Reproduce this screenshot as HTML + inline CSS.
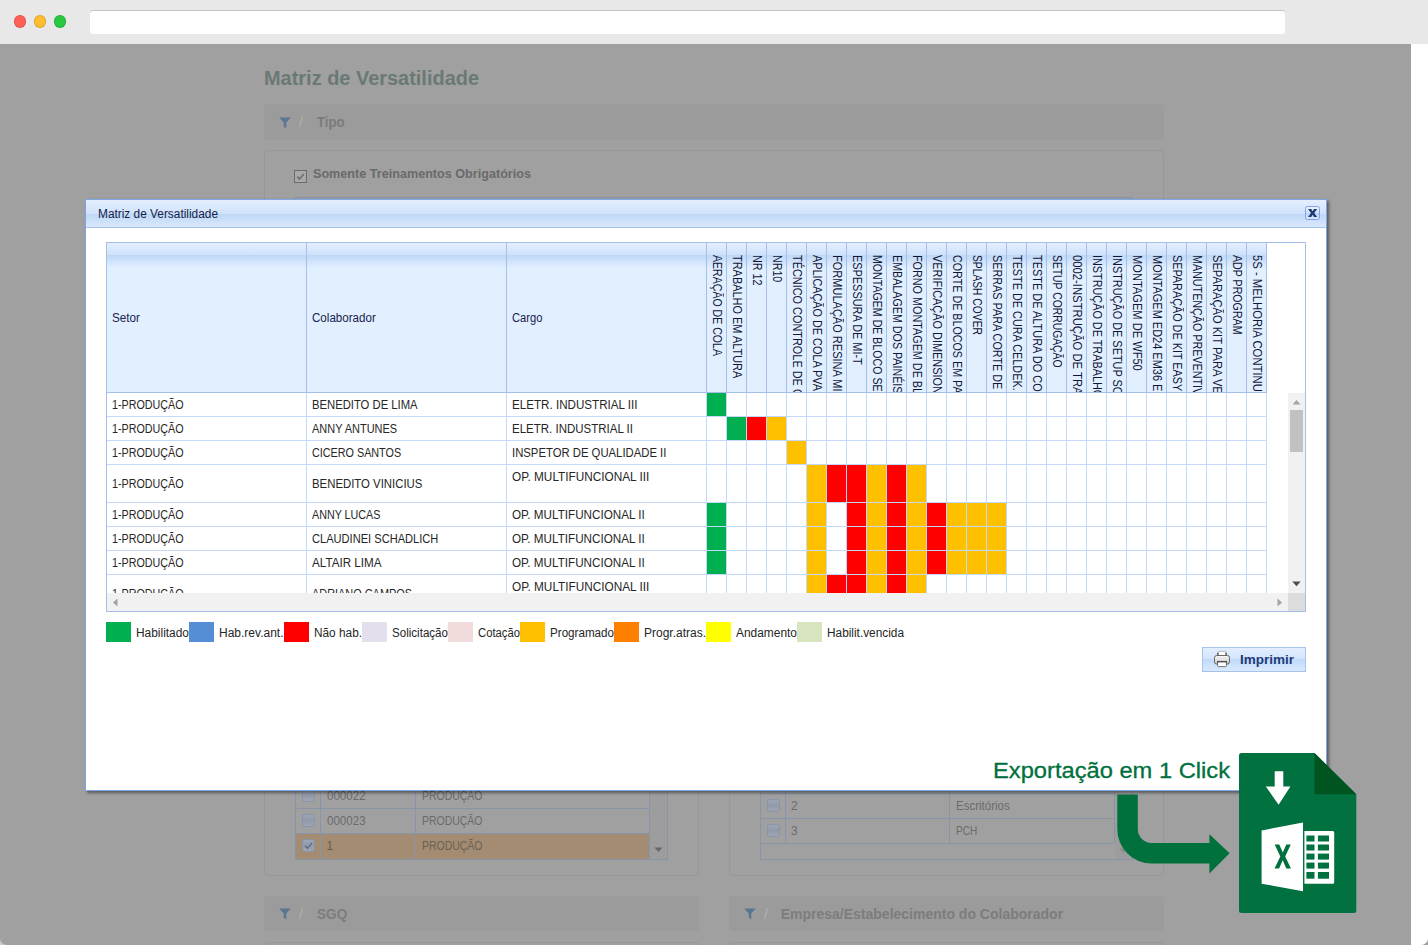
<!DOCTYPE html>
<html><head><meta charset="utf-8"><title>Matriz de Versatilidade</title><style>
html,body{margin:0;padding:0}
body{width:1428px;height:945px;overflow:hidden;background:#fff;position:relative;font-family:"Liberation Sans", sans-serif;}
.t{position:absolute;white-space:pre;font-family:"Liberation Sans", sans-serif;transform-origin:0 50%}
#chrome{position:absolute;left:0;top:0;width:1428px;height:44px;background:#e8e8e8}
.dot{position:absolute;top:15.4px;width:12.8px;height:12.8px;border-radius:50%;box-sizing:border-box;border:0.6px solid rgba(0,0,0,.12)}
#url{position:absolute;left:90px;top:11px;width:1195px;height:23px;background:#fff;border-radius:3px;box-shadow:0 -1px 0 #c4c4c4}
#pg{position:absolute;left:0;top:44px;width:1411px;height:901px;background:#a0a0a0;overflow:hidden;border-radius:0 0 0 7px}
#pg > *{margin-top:-44px}
.bc{position:absolute;background:#9b9b9b;border-radius:4px}
.pn{position:absolute;border:1px solid #979797;border-radius:4px}
.fun{position:absolute}
#dlg{position:absolute;left:85px;top:199px;width:1240px;height:590px;border:1px solid #7da7e6;background:#fff;box-shadow:2px 2px 3px rgba(0,0,0,.45)}
#dtitle{position:absolute;left:0;top:0;width:1240px;height:27px;border-bottom:1px solid #a4c2ec;background:linear-gradient(#e4effe 0px,#cfe2fb 14px,#bdd8f6 14px,#d9e8fd 27px)}
#close{position:absolute;left:1305px;top:206px;width:13px;height:12px;border:1px solid #8a9de6;border-radius:2.5px;background:linear-gradient(#e8f1ff 0,#cfe0fb 50%,#b6d2f5 50%,#d6e8ff 100%)}
#grid{position:absolute;left:106px;top:242px;width:1198px;height:368px;border:1px solid #a4bfe8;background:#fff;overflow:hidden}
#hdr{position:absolute;left:0;top:0;width:1160px;height:149px;background:linear-gradient(#e4effe 0px,#cfe2fb 12px,#bdd8f6 12px,#e2efff 25px)}
.hv{position:absolute;top:0;width:1px;height:150px;background:#a4bfe8;margin-left:-1px}
.hh{position:absolute;left:0;top:149px;width:1160px;height:1px;background:#a4bfe8}
.vc{position:absolute;top:11.5px;width:19px;height:137px;overflow:hidden}
.vt{position:absolute;top:0;left:-0.5px;width:19px;writing-mode:vertical-rl;font-size:12px;line-height:19px;white-space:pre;color:#10163a;transform-origin:0 0}
#rows{position:absolute;left:0;top:150px;width:1182px;height:200px;overflow:hidden}
#dtxt{position:absolute;left:0;top:393px;width:706px;height:200px;overflow:hidden}
#dtxt > *{margin-top:-393px}
#vsb{position:absolute;left:1181px;top:150px;width:17px;height:200px;background:#f1f1f1}
#vth{position:absolute;left:2px;top:17px;width:13px;height:42px;background:#c1c1c1}
#hsb{position:absolute;left:0;top:350px;width:1181px;height:18px;background:#f1f1f1}
#corner{position:absolute;left:1181px;top:350px;width:17px;height:18px;background:#dcdcdc}
#btn{position:absolute;left:1202px;top:647px;width:102px;height:23px;border:1px solid #a4c2ec;background:linear-gradient(#e3eefe 0,#d2e4fc 50%,#c0dbf8 50%,#d9e9fe 100%)}
</style></head><body>
<div style="position:absolute;left:0;top:935px;width:10px;height:10px;background:#c9c9c9"></div><div id="chrome"></div>
<div class="dot" style="left:13.6px;background:#ff5f57"></div><div class="dot" style="left:33.5px;background:#febc2e"></div><div class="dot" style="left:53.6px;background:#28c840"></div>
<div id="url"></div>
<div id="pg">
<div class="t" style="left:264.00px;top:68.07px;font-size:20px;line-height:20px;font-weight:700;color:#6b7975;transform:scaleX(0.9970);">Matriz de Versatilidade</div>
<div class="bc" style="left:264px;top:103.5px;width:900px;height:36px"></div>
<div class="bc" style="left:264px;top:896px;width:435px;height:35px"></div>
<div class="bc" style="left:729px;top:896px;width:435px;height:35px"></div>
<svg class="fun" style="left:279px;top:116.5px" width="12" height="12" viewBox="0 0 12 12"><path d="M0.3 0.4 H11.7 L7.3 5.4 V11.6 L4.7 9.4 V5.4 Z" fill="#5b7691"/></svg>
<svg class="fun" style="left:279px;top:908px" width="12" height="12" viewBox="0 0 12 12"><path d="M0.3 0.4 H11.7 L7.3 5.4 V11.6 L4.7 9.4 V5.4 Z" fill="#5b7691"/></svg>
<svg class="fun" style="left:744px;top:908px" width="12" height="12" viewBox="0 0 12 12"><path d="M0.3 0.4 H11.7 L7.3 5.4 V11.6 L4.7 9.4 V5.4 Z" fill="#5b7691"/></svg>
<div class="t" style="left:299.00px;top:114.65px;font-size:14px;line-height:14px;color:#b2b2b2;">/</div>
<div class="t" style="left:299.00px;top:906.65px;font-size:14px;line-height:14px;color:#b2b2b2;">/</div>
<div class="t" style="left:764.00px;top:906.65px;font-size:14px;line-height:14px;color:#b2b2b2;">/</div>
<div class="t" style="left:317.00px;top:114.65px;font-size:14px;line-height:14px;font-weight:700;color:#7b7b7b;transform:scaleX(0.9421);">Tipo</div>
<div class="t" style="left:316.60px;top:907.15px;font-size:14px;line-height:14px;font-weight:700;color:#7d7d7d;transform:scaleX(0.9735);">SGQ</div>
<div class="t" style="left:780.70px;top:907.15px;font-size:14px;line-height:14px;font-weight:700;color:#7d7d7d;transform:scaleX(1.0000);">Empresa/Estabelecimento do Colaborador</div>
<div class="pn" style="left:264px;top:150px;width:898px;height:400px"></div>
<div class="pn" style="left:264px;top:700px;width:433px;height:174px"></div>
<div class="pn" style="left:729px;top:700px;width:433px;height:174px"></div>
<div class="pn" style="left:264px;top:942px;width:433px;height:50px"></div>
<div class="pn" style="left:729px;top:942px;width:433px;height:50px"></div>
<div style="position:absolute;left:294px;top:170px;width:11px;height:11px;border:1px solid #6c6c6c;background:#a9a9a9"></div>
<svg style="position:absolute;left:294px;top:170px" width="13" height="13" viewBox="0 0 13 13"><path d="M3.2 6.6 L5.5 9 L9.8 4" stroke="#707070" stroke-width="1.8" fill="none"/></svg>
<div class="t" style="left:313.20px;top:167.84px;font-size:12px;line-height:12px;font-weight:700;color:#6a6a6a;transform:scaleX(1.0512);">Somente Treinamentos Obrigatórios</div>
<div style="position:absolute;left:295px;top:197px;width:838px;height:30px;border:1px solid #8795a9;box-sizing:border-box;background:#9c9fa3"></div>
<div style="position:absolute;left:295px;top:700px;width:373px;height:160px;border:1px solid #8795a9;box-sizing:border-box"></div>
<div style="position:absolute;left:650px;top:701px;width:17px;height:158px;background:#9d9d9d"></div>
<div style="position:absolute;left:760px;top:700px;width:373px;height:160px;border:1px solid #8795a9;box-sizing:border-box"></div>
<div style="position:absolute;left:1115px;top:701px;width:17px;height:158px;background:#9d9d9d"></div>
<div style="position:absolute;left:296px;top:834px;width:353px;height:24.5px;background:#a38c71"></div>
<div style="position:absolute;left:296px;top:808px;width:353px;height:1px;background:#8795a9"></div>
<div style="position:absolute;left:296px;top:833px;width:353px;height:1px;background:#8795a9"></div>
<div style="position:absolute;left:320px;top:700px;width:1px;height:159px;background:#8795a9"></div>
<div style="position:absolute;left:415px;top:700px;width:1px;height:159px;background:#8795a9"></div>
<div style="position:absolute;left:649px;top:700px;width:1px;height:159px;background:#8795a9"></div>
<div style="position:absolute;left:761px;top:793px;width:353px;height:1px;background:#8795a9"></div>
<div style="position:absolute;left:761px;top:818px;width:353px;height:1px;background:#8795a9"></div>
<div style="position:absolute;left:761px;top:843px;width:353px;height:1px;background:#8795a9"></div>
<div style="position:absolute;left:785px;top:700px;width:1px;height:143px;background:#8795a9"></div>
<div style="position:absolute;left:949px;top:700px;width:1px;height:143px;background:#8795a9"></div>
<div style="position:absolute;left:1114px;top:700px;width:1px;height:143px;background:#8795a9"></div>
<div style="position:absolute;left:302px;top:789px;width:11px;height:11px;border:1px solid #8795ac;border-radius:2.5px;background:linear-gradient(#9ea5b3,#9199ab 50%,#a0a5b0)"></div>
<div style="position:absolute;left:302px;top:814px;width:11px;height:11px;border:1px solid #8795ac;border-radius:2.5px;background:linear-gradient(#9ea5b3,#9199ab 50%,#a0a5b0)"></div>
<div style="position:absolute;left:302px;top:839px;width:11px;height:11px;border:1px solid #8795ac;border-radius:2.5px;background:linear-gradient(#9ea5b3,#9199ab 50%,#a0a5b0)"></div>
<svg style="position:absolute;left:302px;top:839px" width="13" height="13" viewBox="0 0 13 13"><path d="M3 6.8 L5.6 9.3 L10 3.8" stroke="#5d6a80" stroke-width="1.3" fill="none"/></svg>
<div style="position:absolute;left:767px;top:799px;width:11px;height:11px;border:1px solid #8795ac;border-radius:2.5px;background:linear-gradient(#9ea5b3,#9199ab 50%,#a0a5b0)"></div>
<div style="position:absolute;left:767px;top:824px;width:11px;height:11px;border:1px solid #8795ac;border-radius:2.5px;background:linear-gradient(#9ea5b3,#9199ab 50%,#a0a5b0)"></div>
<div class="t" style="left:326.60px;top:790.34px;font-size:12px;line-height:12px;color:#6b6b6b;transform:scaleX(0.9639);">000022</div>
<div class="t" style="left:421.50px;top:790.34px;font-size:12px;line-height:12px;color:#6b6b6b;transform:scaleX(0.8725);">PRODUÇÃO</div>
<div class="t" style="left:326.60px;top:814.84px;font-size:12px;line-height:12px;color:#6b6b6b;transform:scaleX(0.9639);">000023</div>
<div class="t" style="left:421.50px;top:814.84px;font-size:12px;line-height:12px;color:#6b6b6b;transform:scaleX(0.8725);">PRODUÇÃO</div>
<div class="t" style="left:326.60px;top:839.84px;font-size:12px;line-height:12px;color:#6b5a50;">1</div>
<div class="t" style="left:421.50px;top:839.84px;font-size:12px;line-height:12px;color:#6b6258;transform:scaleX(0.8725);">PRODUÇÃO</div>
<div class="t" style="left:790.90px;top:799.84px;font-size:12px;line-height:12px;color:#6b6b6b;">2</div>
<div class="t" style="left:955.50px;top:799.84px;font-size:12px;line-height:12px;color:#6b6b6b;transform:scaleX(0.9604);">Escritórios</div>
<div class="t" style="left:790.90px;top:824.84px;font-size:12px;line-height:12px;color:#6b6b6b;">3</div>
<div class="t" style="left:955.50px;top:824.84px;font-size:12px;line-height:12px;color:#6b6b6b;transform:scaleX(0.8365);">PCH</div>
<svg style="position:absolute;left:654px;top:847px" width="9" height="6" viewBox="0 0 9 6"><path d="M0.5 0.5 H8.5 L4.5 5 Z" fill="#686868"/></svg>
<svg style="position:absolute;left:1119px;top:848px" width="9" height="6" viewBox="0 0 9 6"><path d="M0.5 0.5 H8.5 L4.5 5 Z" fill="#8a8a8a"/></svg>
</div>
<div style="position:absolute;left:1411px;top:925px;width:17px;height:20px;background:#a0a0a0"></div><div style="position:absolute;left:1400px;top:44px;width:28px;height:901px;background:#fff;border-radius:0 0 7px 0;clip-path:inset(0 0 0 11px)"></div>
<div id="dlg"><div id="dtitle"></div></div>
<div class="t" style="left:98.20px;top:207.84px;font-size:12px;line-height:12px;color:#15214b;transform:scaleX(0.9884);">Matriz de Versatilidade</div>
<div id="close"></div><svg style="position:absolute;left:1305px;top:206px" width="15" height="14" viewBox="0 0 15 14"><path d="M3 3 H6.2 L7.6 5.2 L9 3 H12.2 L9.2 7 L12.2 11 H9 L7.6 8.8 L6.2 11 H3 L6 7 Z" fill="#1f3a6e"/></svg>
<div id="grid">
<div id="hdr"></div>
<div class="hv" style="left:200px"></div>
<div class="hv" style="left:400px"></div>
<div class="hv" style="left:600px"></div>
<div class="hv" style="left:620px"></div>
<div class="hv" style="left:640px"></div>
<div class="hv" style="left:660px"></div>
<div class="hv" style="left:680px"></div>
<div class="hv" style="left:700px"></div>
<div class="hv" style="left:720px"></div>
<div class="hv" style="left:740px"></div>
<div class="hv" style="left:760px"></div>
<div class="hv" style="left:780px"></div>
<div class="hv" style="left:800px"></div>
<div class="hv" style="left:820px"></div>
<div class="hv" style="left:840px"></div>
<div class="hv" style="left:860px"></div>
<div class="hv" style="left:880px"></div>
<div class="hv" style="left:900px"></div>
<div class="hv" style="left:920px"></div>
<div class="hv" style="left:940px"></div>
<div class="hv" style="left:960px"></div>
<div class="hv" style="left:980px"></div>
<div class="hv" style="left:1000px"></div>
<div class="hv" style="left:1020px"></div>
<div class="hv" style="left:1040px"></div>
<div class="hv" style="left:1060px"></div>
<div class="hv" style="left:1080px"></div>
<div class="hv" style="left:1100px"></div>
<div class="hv" style="left:1120px"></div>
<div class="hv" style="left:1140px"></div>
<div class="hv" style="left:1160px"></div>
<div class="hh"></div>
<div class="vc" style="left:600px"><div class="vt" style="transform:scaleY(0.8805)">AERAÇÃO DE COLA</div></div><div class="vc" style="left:620px"><div class="vt" style="transform:scaleY(0.9124)">TRABALHO EM ALTURA</div></div><div class="vc" style="left:640px"><div class="vt" style="transform:scaleY(0.8996)">NR 12</div></div><div class="vc" style="left:660px"><div class="vt" style="transform:scaleY(0.8896)">NR10</div></div><div class="vc" style="left:680px"><div class="vt" style="transform:scaleY(0.9087)">TÉCNICO CONTROLE DE QUALIDADE</div></div><div class="vc" style="left:700px"><div class="vt" style="transform:scaleY(0.9030)">APLICAÇÃO DE COLA PVA</div></div><div class="vc" style="left:720px"><div class="vt" style="transform:scaleY(0.9185)">FORMULAÇÃO RESINA MISTURA</div></div><div class="vc" style="left:740px"><div class="vt" style="transform:scaleY(0.9097)">ESPESSURA DE MI-T</div></div><div class="vc" style="left:760px"><div class="vt" style="transform:scaleY(0.8843)">MONTAGEM DE BLOCO SEPARADOR</div></div><div class="vc" style="left:780px"><div class="vt" style="transform:scaleY(0.8926)">EMBALAGEM DOS PAINÉIS</div></div><div class="vc" style="left:800px"><div class="vt" style="transform:scaleY(0.9005)">FORNO MONTAGEM DE BLOCOS</div></div><div class="vc" style="left:820px"><div class="vt" style="transform:scaleY(0.9095)">VERIFICAÇÃO DIMENSIONAL</div></div><div class="vc" style="left:840px"><div class="vt" style="transform:scaleY(0.8949)">CORTE DE BLOCOS EM PAINÉIS</div></div><div class="vc" style="left:860px"><div class="vt" style="transform:scaleY(0.8557)">SPLASH COVER</div></div><div class="vc" style="left:880px"><div class="vt" style="transform:scaleY(0.9016)">SERRAS PARA CORTE DE BLOCOS</div></div><div class="vc" style="left:900px"><div class="vt" style="transform:scaleY(0.9044)">TESTE DE CURA CELDEK.</div></div><div class="vc" style="left:920px"><div class="vt" style="transform:scaleY(0.9124)">TESTE DE ALTURA DO COLCHÃO</div></div><div class="vc" style="left:940px"><div class="vt" style="transform:scaleY(0.8623)">SETUP CORRUGAÇÃO</div></div><div class="vc" style="left:960px"><div class="vt" style="transform:scaleY(0.9398)">0002-INSTRUÇÃO DE TRABALHO</div></div><div class="vc" style="left:980px"><div class="vt" style="transform:scaleY(0.9036)">INSTRUÇÃO DE TRABALHO 3</div></div><div class="vc" style="left:1000px"><div class="vt" style="transform:scaleY(0.9080)">INSTRUÇÃO DE SETUP SCORE</div></div><div class="vc" style="left:1020px"><div class="vt" style="transform:scaleY(0.9255)">MONTAGEM DE WF50</div></div><div class="vc" style="left:1040px"><div class="vt" style="transform:scaleY(0.9144)">MONTAGEM ED24 EM36 EM48</div></div><div class="vc" style="left:1060px"><div class="vt" style="transform:scaleY(0.9024)">SEPARAÇÃO DE KIT EASY</div></div><div class="vc" style="left:1080px"><div class="vt" style="transform:scaleY(0.8945)">MANUTENÇÃO PREVENTIVA</div></div><div class="vc" style="left:1100px"><div class="vt" style="transform:scaleY(0.9289)">SEPARAÇÃO KIT PARA VENDA</div></div><div class="vc" style="left:1120px"><div class="vt" style="transform:scaleY(0.8853)">ADP PROGRAM</div></div><div class="vc" style="left:1140px"><div class="vt" style="transform:scaleY(0.9420)">5S - MELHORIA CONTINUA</div></div>
<div id="rows">
<div style="position:absolute;left:600px;top:0px;width:19px;height:23px;background:#00b050"></div>
<div style="position:absolute;left:0;top:23px;width:1160px;height:1px;background:#c3d9f7"></div>
<div style="position:absolute;left:620px;top:24px;width:19px;height:23px;background:#00b050"></div>
<div style="position:absolute;left:640px;top:24px;width:19px;height:23px;background:#ff0000"></div>
<div style="position:absolute;left:660px;top:24px;width:19px;height:23px;background:#ffc000"></div>
<div style="position:absolute;left:0;top:47px;width:1160px;height:1px;background:#c3d9f7"></div>
<div style="position:absolute;left:680px;top:48px;width:19px;height:23px;background:#ffc000"></div>
<div style="position:absolute;left:0;top:71px;width:1160px;height:1px;background:#c3d9f7"></div>
<div style="position:absolute;left:700px;top:72px;width:19px;height:37px;background:#ffc000"></div>
<div style="position:absolute;left:720px;top:72px;width:19px;height:37px;background:#ff0000"></div>
<div style="position:absolute;left:740px;top:72px;width:19px;height:37px;background:#ff0000"></div>
<div style="position:absolute;left:760px;top:72px;width:19px;height:37px;background:#ffc000"></div>
<div style="position:absolute;left:780px;top:72px;width:19px;height:37px;background:#ff0000"></div>
<div style="position:absolute;left:800px;top:72px;width:19px;height:37px;background:#ffc000"></div>
<div style="position:absolute;left:0;top:109px;width:1160px;height:1px;background:#c3d9f7"></div>
<div style="position:absolute;left:600px;top:110px;width:19px;height:23px;background:#00b050"></div>
<div style="position:absolute;left:700px;top:110px;width:19px;height:23px;background:#ffc000"></div>
<div style="position:absolute;left:740px;top:110px;width:19px;height:23px;background:#ff0000"></div>
<div style="position:absolute;left:760px;top:110px;width:19px;height:23px;background:#ffc000"></div>
<div style="position:absolute;left:780px;top:110px;width:19px;height:23px;background:#ff0000"></div>
<div style="position:absolute;left:800px;top:110px;width:19px;height:23px;background:#ffc000"></div>
<div style="position:absolute;left:820px;top:110px;width:19px;height:23px;background:#ff0000"></div>
<div style="position:absolute;left:840px;top:110px;width:19px;height:23px;background:#ffc000"></div>
<div style="position:absolute;left:860px;top:110px;width:19px;height:23px;background:#ffc000"></div>
<div style="position:absolute;left:880px;top:110px;width:19px;height:23px;background:#ffc000"></div>
<div style="position:absolute;left:0;top:133px;width:1160px;height:1px;background:#c3d9f7"></div>
<div style="position:absolute;left:600px;top:134px;width:19px;height:23px;background:#00b050"></div>
<div style="position:absolute;left:700px;top:134px;width:19px;height:23px;background:#ffc000"></div>
<div style="position:absolute;left:740px;top:134px;width:19px;height:23px;background:#ff0000"></div>
<div style="position:absolute;left:760px;top:134px;width:19px;height:23px;background:#ffc000"></div>
<div style="position:absolute;left:780px;top:134px;width:19px;height:23px;background:#ff0000"></div>
<div style="position:absolute;left:800px;top:134px;width:19px;height:23px;background:#ffc000"></div>
<div style="position:absolute;left:820px;top:134px;width:19px;height:23px;background:#ff0000"></div>
<div style="position:absolute;left:840px;top:134px;width:19px;height:23px;background:#ffc000"></div>
<div style="position:absolute;left:860px;top:134px;width:19px;height:23px;background:#ffc000"></div>
<div style="position:absolute;left:880px;top:134px;width:19px;height:23px;background:#ffc000"></div>
<div style="position:absolute;left:0;top:157px;width:1160px;height:1px;background:#c3d9f7"></div>
<div style="position:absolute;left:600px;top:158px;width:19px;height:23px;background:#00b050"></div>
<div style="position:absolute;left:700px;top:158px;width:19px;height:23px;background:#ffc000"></div>
<div style="position:absolute;left:740px;top:158px;width:19px;height:23px;background:#ff0000"></div>
<div style="position:absolute;left:760px;top:158px;width:19px;height:23px;background:#ffc000"></div>
<div style="position:absolute;left:780px;top:158px;width:19px;height:23px;background:#ff0000"></div>
<div style="position:absolute;left:800px;top:158px;width:19px;height:23px;background:#ffc000"></div>
<div style="position:absolute;left:820px;top:158px;width:19px;height:23px;background:#ff0000"></div>
<div style="position:absolute;left:840px;top:158px;width:19px;height:23px;background:#ffc000"></div>
<div style="position:absolute;left:860px;top:158px;width:19px;height:23px;background:#ffc000"></div>
<div style="position:absolute;left:880px;top:158px;width:19px;height:23px;background:#ffc000"></div>
<div style="position:absolute;left:0;top:181px;width:1160px;height:1px;background:#c3d9f7"></div>
<div style="position:absolute;left:700px;top:182px;width:19px;height:37px;background:#ffc000"></div>
<div style="position:absolute;left:720px;top:182px;width:19px;height:37px;background:#ff0000"></div>
<div style="position:absolute;left:740px;top:182px;width:19px;height:37px;background:#ff0000"></div>
<div style="position:absolute;left:760px;top:182px;width:19px;height:37px;background:#ffc000"></div>
<div style="position:absolute;left:780px;top:182px;width:19px;height:37px;background:#ff0000"></div>
<div style="position:absolute;left:800px;top:182px;width:19px;height:37px;background:#ffc000"></div>
<div style="position:absolute;left:0;top:219px;width:1160px;height:1px;background:#c3d9f7"></div>
<div style="position:absolute;left:199px;top:0;width:1px;height:240px;background:#c3d9f7"></div>
<div style="position:absolute;left:399px;top:0;width:1px;height:240px;background:#c3d9f7"></div>
<div style="position:absolute;left:599px;top:0;width:1px;height:240px;background:#c3d9f7"></div>
<div style="position:absolute;left:619px;top:0;width:1px;height:240px;background:#c3d9f7"></div>
<div style="position:absolute;left:639px;top:0;width:1px;height:240px;background:#c3d9f7"></div>
<div style="position:absolute;left:659px;top:0;width:1px;height:240px;background:#c3d9f7"></div>
<div style="position:absolute;left:679px;top:0;width:1px;height:240px;background:#c3d9f7"></div>
<div style="position:absolute;left:699px;top:0;width:1px;height:240px;background:#c3d9f7"></div>
<div style="position:absolute;left:719px;top:0;width:1px;height:240px;background:#c3d9f7"></div>
<div style="position:absolute;left:739px;top:0;width:1px;height:240px;background:#c3d9f7"></div>
<div style="position:absolute;left:759px;top:0;width:1px;height:240px;background:#c3d9f7"></div>
<div style="position:absolute;left:779px;top:0;width:1px;height:240px;background:#c3d9f7"></div>
<div style="position:absolute;left:799px;top:0;width:1px;height:240px;background:#c3d9f7"></div>
<div style="position:absolute;left:819px;top:0;width:1px;height:240px;background:#c3d9f7"></div>
<div style="position:absolute;left:839px;top:0;width:1px;height:240px;background:#c3d9f7"></div>
<div style="position:absolute;left:859px;top:0;width:1px;height:240px;background:#c3d9f7"></div>
<div style="position:absolute;left:879px;top:0;width:1px;height:240px;background:#c3d9f7"></div>
<div style="position:absolute;left:899px;top:0;width:1px;height:240px;background:#c3d9f7"></div>
<div style="position:absolute;left:919px;top:0;width:1px;height:240px;background:#c3d9f7"></div>
<div style="position:absolute;left:939px;top:0;width:1px;height:240px;background:#c3d9f7"></div>
<div style="position:absolute;left:959px;top:0;width:1px;height:240px;background:#c3d9f7"></div>
<div style="position:absolute;left:979px;top:0;width:1px;height:240px;background:#c3d9f7"></div>
<div style="position:absolute;left:999px;top:0;width:1px;height:240px;background:#c3d9f7"></div>
<div style="position:absolute;left:1019px;top:0;width:1px;height:240px;background:#c3d9f7"></div>
<div style="position:absolute;left:1039px;top:0;width:1px;height:240px;background:#c3d9f7"></div>
<div style="position:absolute;left:1059px;top:0;width:1px;height:240px;background:#c3d9f7"></div>
<div style="position:absolute;left:1079px;top:0;width:1px;height:240px;background:#c3d9f7"></div>
<div style="position:absolute;left:1099px;top:0;width:1px;height:240px;background:#c3d9f7"></div>
<div style="position:absolute;left:1119px;top:0;width:1px;height:240px;background:#c3d9f7"></div>
<div style="position:absolute;left:1139px;top:0;width:1px;height:240px;background:#c3d9f7"></div>
<div style="position:absolute;left:1159px;top:0;width:1px;height:240px;background:#c3d9f7"></div>
</div>
<div id="vsb"><div id="vth"></div><svg style="position:absolute;left:4px;top:6px" width="9" height="6" viewBox="0 0 9 6"><path d="M0.5 5.5 H8.5 L4.5 1 Z" fill="#a3a3a3"/></svg><svg style="position:absolute;left:4px;top:188px" width="9" height="6" viewBox="0 0 9 6"><path d="M0.3 0.5 H8.7 L4.5 5.2 Z" fill="#505050"/></svg></div>
<div id="hsb"><svg style="position:absolute;left:5px;top:5px" width="6" height="9" viewBox="0 0 6 9"><path d="M5.5 0.5 V8.5 L1 4.5 Z" fill="#a3a3a3"/></svg><svg style="position:absolute;left:1170px;top:5px" width="6" height="9" viewBox="0 0 6 9"><path d="M0.5 0.5 V8.5 L5 4.5 Z" fill="#a3a3a3"/></svg></div><div id="corner"></div>
</div>
<div class="t" style="left:111.70px;top:311.84px;font-size:12px;line-height:12px;color:#17234d;transform:scaleX(0.9760);">Setor</div>
<div class="t" style="left:312.20px;top:311.84px;font-size:12px;line-height:12px;color:#17234d;transform:scaleX(0.9660);">Colaborador</div>
<div class="t" style="left:512.00px;top:311.84px;font-size:12px;line-height:12px;color:#17234d;transform:scaleX(0.9300);">Cargo</div>
<div id="dtxt">
<div class="t" style="left:112.20px;top:398.64px;font-size:12px;line-height:12px;color:#262626;transform:scaleX(0.8948);">1-PRODUÇÃO</div>
<div class="t" style="left:312.00px;top:398.64px;font-size:12px;line-height:12px;color:#262626;transform:scaleX(0.9388);">BENEDITO DE LIMA</div>
<div class="t" style="left:512.00px;top:398.64px;font-size:12px;line-height:12px;color:#262626;transform:scaleX(0.9684);">ELETR. INDUSTRIAL III</div>
<div class="t" style="left:112.20px;top:422.64px;font-size:12px;line-height:12px;color:#262626;transform:scaleX(0.8948);">1-PRODUÇÃO</div>
<div class="t" style="left:312.00px;top:422.64px;font-size:12px;line-height:12px;color:#262626;transform:scaleX(0.9147);">ANNY ANTUNES</div>
<div class="t" style="left:512.00px;top:422.64px;font-size:12px;line-height:12px;color:#262626;transform:scaleX(0.9584);">ELETR. INDUSTRIAL II</div>
<div class="t" style="left:112.20px;top:446.64px;font-size:12px;line-height:12px;color:#262626;transform:scaleX(0.8948);">1-PRODUÇÃO</div>
<div class="t" style="left:312.00px;top:446.64px;font-size:12px;line-height:12px;color:#262626;transform:scaleX(0.8987);">CICERO SANTOS</div>
<div class="t" style="left:512.00px;top:446.64px;font-size:12px;line-height:12px;color:#262626;transform:scaleX(0.9425);">INSPETOR DE QUALIDADE II</div>
<div class="t" style="left:112.20px;top:477.64px;font-size:12px;line-height:12px;color:#262626;transform:scaleX(0.8948);">1-PRODUÇÃO</div>
<div class="t" style="left:312.00px;top:477.64px;font-size:12px;line-height:12px;color:#262626;transform:scaleX(0.9479);">BENEDITO VINICIUS</div>
<div class="t" style="left:512.00px;top:470.64px;font-size:12px;line-height:12px;color:#262626;transform:scaleX(0.9820);">OP. MULTIFUNCIONAL III</div>
<div class="t" style="left:112.20px;top:508.64px;font-size:12px;line-height:12px;color:#262626;transform:scaleX(0.8948);">1-PRODUÇÃO</div>
<div class="t" style="left:312.00px;top:508.64px;font-size:12px;line-height:12px;color:#262626;transform:scaleX(0.8943);">ANNY LUCAS</div>
<div class="t" style="left:512.00px;top:508.64px;font-size:12px;line-height:12px;color:#262626;transform:scaleX(0.9731);">OP. MULTIFUNCIONAL II</div>
<div class="t" style="left:112.20px;top:532.64px;font-size:12px;line-height:12px;color:#262626;transform:scaleX(0.8948);">1-PRODUÇÃO</div>
<div class="t" style="left:312.00px;top:532.64px;font-size:12px;line-height:12px;color:#262626;transform:scaleX(0.9246);">CLAUDINEI SCHADLICH</div>
<div class="t" style="left:512.00px;top:532.64px;font-size:12px;line-height:12px;color:#262626;transform:scaleX(0.9731);">OP. MULTIFUNCIONAL II</div>
<div class="t" style="left:112.20px;top:556.64px;font-size:12px;line-height:12px;color:#262626;transform:scaleX(0.8948);">1-PRODUÇÃO</div>
<div class="t" style="left:312.00px;top:556.64px;font-size:12px;line-height:12px;color:#262626;transform:scaleX(0.9710);">ALTAIR LIMA</div>
<div class="t" style="left:512.00px;top:556.64px;font-size:12px;line-height:12px;color:#262626;transform:scaleX(0.9731);">OP. MULTIFUNCIONAL II</div>
<div class="t" style="left:112.20px;top:587.64px;font-size:12px;line-height:12px;color:#262626;transform:scaleX(0.8948);">1-PRODUÇÃO</div>
<div class="t" style="left:312.00px;top:587.64px;font-size:12px;line-height:12px;color:#262626;transform:scaleX(0.9090);">ADRIANO CAMPOS</div>
<div class="t" style="left:512.00px;top:580.64px;font-size:12px;line-height:12px;color:#262626;transform:scaleX(0.9820);">OP. MULTIFUNCIONAL III</div>
</div>
<div style="position:absolute;left:106px;top:622px;width:25px;height:20px;background:#00b050"></div>
<div class="t" style="left:136.00px;top:626.84px;font-size:12px;line-height:12px;color:#262626;transform:scaleX(0.9930);">Habilitado</div>
<div style="position:absolute;left:189px;top:622px;width:25px;height:20px;background:#558ed5"></div>
<div class="t" style="left:219.00px;top:626.84px;font-size:12px;line-height:12px;color:#262626;transform:scaleX(1.0002);">Hab.rev.ant.</div>
<div style="position:absolute;left:284px;top:622px;width:25px;height:20px;background:#ff0000"></div>
<div class="t" style="left:314.00px;top:626.84px;font-size:12px;line-height:12px;color:#262626;transform:scaleX(0.9856);">Não hab.</div>
<div style="position:absolute;left:362px;top:622px;width:25px;height:20px;background:#e4dfec"></div>
<div class="t" style="left:392.00px;top:626.84px;font-size:12px;line-height:12px;color:#262626;transform:scaleX(0.9650);">Solicitação</div>
<div style="position:absolute;left:448px;top:622px;width:25px;height:20px;background:#f2dcdb"></div>
<div class="t" style="left:478.00px;top:626.84px;font-size:12px;line-height:12px;color:#262626;transform:scaleX(0.9395);">Cotação</div>
<div style="position:absolute;left:520px;top:622px;width:25px;height:20px;background:#ffc000"></div>
<div class="t" style="left:550.00px;top:626.84px;font-size:12px;line-height:12px;color:#262626;transform:scaleX(0.9690);">Programado</div>
<div style="position:absolute;left:614px;top:622px;width:25px;height:20px;background:#ff8000"></div>
<div class="t" style="left:644.00px;top:626.84px;font-size:12px;line-height:12px;color:#262626;transform:scaleX(0.9995);">Progr.atras.</div>
<div style="position:absolute;left:706px;top:622px;width:25px;height:20px;background:#ffff00"></div>
<div class="t" style="left:736.00px;top:626.84px;font-size:12px;line-height:12px;color:#262626;transform:scaleX(0.9936);">Andamento</div>
<div style="position:absolute;left:797px;top:622px;width:25px;height:20px;background:#d7e4bd"></div>
<div class="t" style="left:827.00px;top:626.84px;font-size:12px;line-height:12px;color:#262626;transform:scaleX(0.9866);">Habilit.vencida</div>
<div id="btn"></div>
<svg style="position:absolute;left:1213px;top:650px" width="18" height="18" viewBox="1213 650 18 18">
<defs><linearGradient id="prg" x1="0" y1="0" x2="0" y2="1"><stop offset="0" stop-color="#fafafa"/><stop offset="1" stop-color="#c4c4c4"/></linearGradient></defs>
<rect x="1217.2" y="652.4" width="9.6" height="5" rx="1" fill="#4a4a4a"/>
<rect x="1218.5" y="651.3" width="7" height="5" rx="0.8" fill="#fff" stroke="#8a8a8a" stroke-width="0.6"/>
<rect x="1214.5" y="655.5" width="15" height="8.6" rx="2.2" fill="url(#prg)" stroke="#5a5a5a" stroke-width="0.9"/>
<rect x="1217" y="661" width="10" height="3.4" fill="#4a4a4a"/>
<rect x="1217.6" y="662" width="8.8" height="4.6" rx="0.9" fill="#fff" stroke="#555" stroke-width="0.8"/>
</svg>
<div class="t" style="left:1240.00px;top:654.14px;font-size:12px;line-height:12px;font-weight:700;color:#1f3a7a;transform:scaleX(1.1246);">Imprimir</div>
<div class="t" style="left:992.80px;top:760.35px;font-size:22.5px;line-height:22.5px;color:#00703c;transform:scaleX(1.0529);-webkit-text-stroke:0.3px #00703c;">Exportação em 1 Click</div>
<svg style="position:absolute;left:1100px;top:780px" width="140" height="110" viewBox="1100 780 140 110">
<path d="M1117.3 794.4 H1137.8 V829 A14 14 0 0 0 1151.8 843 H1209.4 V834.2 L1229.6 853.3 L1209.4 873.4 V863.6 H1151.8 A34.5 34.5 0 0 1 1117.3 829 Z" fill="#00703c"/></svg>
<svg style="position:absolute;left:1230px;top:745px" width="135" height="175" viewBox="1230 745 135 175">
<path d="M1241.5 753 H1314.5 L1356.3 794.3 V910.5 a2.5 2.5 0 0 1 -2.5 2.5 H1241.5 a2.5 2.5 0 0 1 -2.5 -2.5 V755.5 a2.5 2.5 0 0 1 2.5 -2.5 Z" fill="#01713f"/>
<path d="M1314.5 753 L1356.3 794.3 H1314.5 Z" fill="#00541f"/>
<path d="M1274.7 771.2 H1283.3 V786.6 H1290.4 L1278.6 804.7 L1265.8 786.6 H1274.7 Z" fill="#fff"/>
<path d="M1261.6 830.5 L1303 822.4 V891.2 L1261.6 883.7 Z" fill="#fff"/>
<path d="M1304.4 831 H1332.7 a1.5 1.5 0 0 1 1.5 1.5 V882.2 a1.5 1.5 0 0 1 -1.5 1.5 H1304.4 Z" fill="#fff"/>
<g fill="#01713f">
<rect x="1306.4" y="835.5" width="8.1" height="6"/><rect x="1317.9" y="835.5" width="11.1" height="6"/>
<rect x="1306.4" y="844.5" width="8.1" height="6"/><rect x="1317.9" y="844.5" width="11.1" height="6"/>
<rect x="1306.4" y="853.6" width="8.1" height="6"/><rect x="1317.9" y="853.6" width="11.1" height="6"/>
<rect x="1306.4" y="862.6" width="8.1" height="6"/><rect x="1317.9" y="862.6" width="11.1" height="6"/>
<rect x="1306.4" y="872" width="8.1" height="6.7"/><rect x="1317.9" y="872" width="11.1" height="6.7"/>
<path d="M1274.7 844.5 H1279.3 L1282.8 852.6 L1286.3 844.5 H1290.8 L1285.2 856.4 L1291 868.6 H1286.3 L1282.7 860.3 L1279.1 868.6 H1274.5 L1280.3 856.4 Z"/>
</g></svg>
</body></html>
